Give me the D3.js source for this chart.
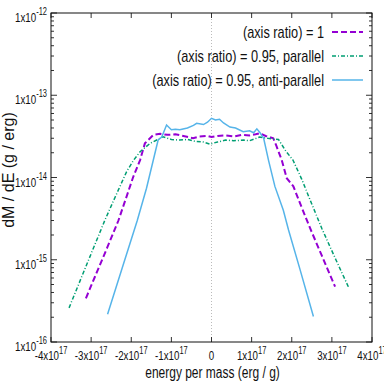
<!DOCTYPE html>
<html>
<head>
<meta charset="utf-8">
<script src="https://cdn.jsdelivr.net/npm/d3@7"></script>
<style>
  body { margin: 0; background: #fff; }
  text { font-family: "Liberation Sans", Arial, sans-serif; }
</style>
</head>
<body>
<div id="drawing_region"></div>
<script>
// energy per mass in units of 1e17 erg/g, dM/dE in g/erg
const energyRatio1 = [-3.13, -2.9, -2.6, -2.32, -2.1, -1.95, -1.78, -1.66, -1.45, -1.28, -1.1, -0.9, -0.7, -0.46, -0.3, -0.1, 0, 0.15, 0.35, 0.55, 0.75, 0.95, 1.1, 1.21, 1.35, 1.54, 1.62, 1.75, 1.875, 2.04, 2.25, 2.46, 2.75, 3.08];
const dmdeRatio1 = [3.4e-16, 6.3e-16, 1.4e-15, 3.0e-15, 6.2e-15, 1.02e-14, 1.63e-14, 2.6e-14, 3.29e-14, 3.4e-14, 3.3e-14, 3.35e-14, 3.2e-14, 3.0e-14, 3.15e-14, 3.2e-14, 3.1e-14, 3.2e-14, 3.25e-14, 3.15e-14, 3.3e-14, 3.25e-14, 3.35e-14, 3.45e-14, 3.2e-14, 3.0e-14, 2.4e-14, 1.63e-14, 9.8e-15, 7.8e-15, 4.3e-15, 2.4e-15, 1.12e-15, 4.7e-16];

const energyParallel = [-3.55, -3.1, -2.66, -2.4, -2.115, -1.95, -1.78, -1.53, -1.28, -1.21, -1.0, -0.8, -0.6, -0.4, -0.2, -0.04, 0.15, 0.35, 0.55, 0.8, 0.95, 1.2, 1.4, 1.67, 1.85, 2.03, 2.25, 2.46, 2.75, 3.1, 3.41];
const dmdeParallel = [2.6e-16, 9.0e-16, 3.0e-15, 5.8e-15, 1.18e-14, 1.6e-14, 2.06e-14, 2.6e-14, 3.0e-14, 3.13e-14, 2.9e-14, 2.85e-14, 2.9e-14, 2.75e-14, 2.7e-14, 2.55e-14, 2.7e-14, 2.85e-14, 2.8e-14, 2.85e-14, 2.8e-14, 3.1e-14, 3.0e-14, 2.9e-14, 2.1e-14, 1.63e-14, 9.5e-15, 5.3e-15, 2.4e-15, 1.0e-15, 4.7e-16];

const energyAnti = [-2.59, -2.2, -1.85, -1.62, -1.45, -1.33, -1.24, -1.12, -1.0, -0.9, -0.79, -0.6, -0.45, -0.37, -0.2, -0.1, 0, 0.1, 0.2, 0.3, 0.46, 0.6, 0.79, 0.95, 1.05, 1.13, 1.21, 1.3, 1.42, 1.58, 1.79, 1.92, 2.2, 2.54];
const dmdeAnti = [2.17e-16, 8.7e-16, 3.0e-15, 7.4e-15, 1.63e-14, 2.86e-14, 3.1e-14, 4.35e-14, 3.8e-14, 3.85e-14, 3.8e-14, 4.0e-14, 4.3e-14, 4.56e-14, 4.4e-14, 4.7e-14, 5.25e-14, 5.0e-14, 5.1e-14, 4.6e-14, 4.1e-14, 4.0e-14, 3.6e-14, 3.7e-14, 3.5e-14, 3.9e-14, 3.5e-14, 3.0e-14, 1.63e-14, 7.8e-15, 4.0e-15, 2.3e-15, 7.8e-16, 2.04e-16];

const seriesNames = ['(axis ratio) = 1', '(axis ratio) = 0.95, parallel', '(axis ratio) = 0.95, anti-parallel'];
const xTicks = [-4, -3, -2, -1, 0, 1, 2, 3, 4];
const yTickExps = [-16, -15, -14, -13, -12];

const width = 384, height = 384;
const margin = {top: 13, right: 12, bottom: 42, left: 51};
const innerW = width - margin.left - margin.right;
const innerH = height - margin.top - margin.bottom;
const squeeze = 0.75;  // condensed look of the original font

const svg = d3.select('#drawing_region').append('svg')
    .attr('width', width).attr('height', height);
const chart = svg.append('g')
    .attr('transform', `translate(${margin.left},${margin.top})`);

const xscale = d3.scaleLinear().domain([-4, 4]).range([0, innerW]);
const yscale = d3.scaleLog().domain([1e-16, 1e-12]).range([innerH, 0]);

// narrow text helper
function narrowText(parent, x, y, anchor, size) {
    return parent.append('g')
        .attr('transform', `translate(${x},${y}) scale(${squeeze},1)`)
        .append('text')
        .attr('text-anchor', anchor)
        .attr('font-size', size)
        .attr('fill', '#111');
}

// zero line
chart.append('line')
    .attr('x1', xscale(0)).attr('x2', xscale(0))
    .attr('y1', 0).attr('y2', innerH)
    .attr('stroke', '#bbb').attr('stroke-dasharray', '1,2');

// ticks
const tickColor = '#333';
xTicks.forEach(t => {
    const x = xscale(t);
    chart.append('line').attr('x1', x).attr('x2', x).attr('y1', innerH).attr('y2', innerH - 5).attr('stroke', tickColor);
    chart.append('line').attr('x1', x).attr('x2', x).attr('y1', 0).attr('y2', 5).attr('stroke', tickColor);
    const lab = narrowText(chart, x, innerH + 18, 'middle', 13);
    if (t === 0) {
        lab.text('0');
    } else {
        lab.append('tspan').text(t + 'x10');
        lab.append('tspan').attr('dy', -6).attr('font-size', 10).text('17');
    }
});

yTickExps.forEach((e, i) => {
    const y = yscale(Math.pow(10, e));
    chart.append('line').attr('x1', 0).attr('x2', 6).attr('y1', y).attr('y2', y).attr('stroke', tickColor);
    chart.append('line').attr('x1', innerW).attr('x2', innerW - 6).attr('y1', y).attr('y2', y).attr('stroke', tickColor);
    if (i < yTickExps.length - 1) {
        for (let m = 2; m <= 9; m++) {
            const ym = yscale(m * Math.pow(10, e));
            chart.append('line').attr('x1', 0).attr('x2', 3).attr('y1', ym).attr('y2', ym).attr('stroke', tickColor);
            chart.append('line').attr('x1', innerW).attr('x2', innerW - 3).attr('y1', ym).attr('y2', ym).attr('stroke', tickColor);
        }
    }
    const lab = narrowText(chart, -4, y + 9, 'end', 13);
    lab.append('tspan').text('1x10');
    lab.append('tspan').attr('dy', -7).attr('font-size', 10).text(e);
});

// frame
chart.append('rect')
    .attr('width', innerW).attr('height', innerH)
    .attr('fill', 'none').attr('stroke', '#111').attr('stroke-width', 1);

// curves
const line = d3.line()
    .x(d => xscale(d[0]))
    .y(d => yscale(d[1]));

const series = [
    {data: d3.zip(energyRatio1, dmdeRatio1), color: '#9400d3', width: 2, dash: '6,3'},
    {data: d3.zip(energyParallel, dmdeParallel), color: '#009e73', width: 1.5, dash: '4,2,1,2'},
    {data: d3.zip(energyAnti, dmdeAnti), color: '#56b4e9', width: 1.5, dash: null}
];

series.forEach(s => {
    chart.append('path')
        .attr('d', line(s.data))
        .attr('fill', 'none')
        .attr('stroke', s.color)
        .attr('stroke-width', s.width)
        .attr('stroke-dasharray', s.dash);
});

// legend
series.forEach((s, i) => {
    const y = 32 + i * 24;
    narrowText(svg, 324, y + 6, 'end', 17).text(seriesNames[i]);
    svg.append('line')
        .attr('x1', 332).attr('x2', 363).attr('y1', y).attr('y2', y)
        .attr('stroke', s.color).attr('stroke-width', s.width)
        .attr('stroke-dasharray', s.dash);
});

// axis titles
narrowText(svg, margin.left + innerW / 2 + 1, height - 6, 'middle', 16)
    .text('energy per mass (erg / g)');

svg.append('text')
    .attr('transform', `translate(14,170) rotate(-90)`)
    .attr('text-anchor', 'middle').attr('font-size', 16).attr('fill', '#111')
    .text('dM / dE (g / erg)');
</script>
</body>
</html>
